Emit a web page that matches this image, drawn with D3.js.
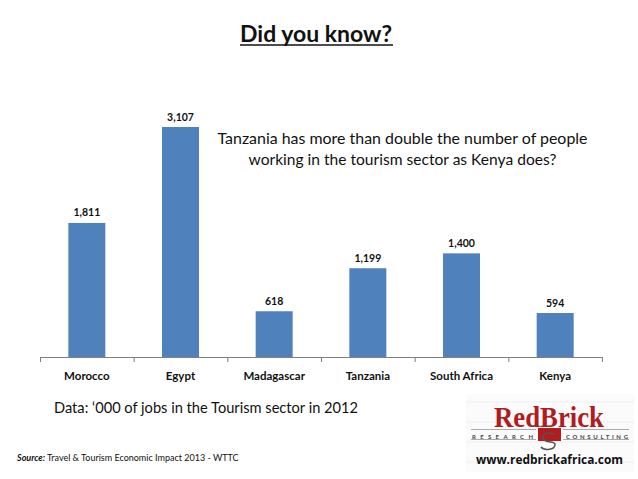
<!DOCTYPE html>
<html>
<head>
<meta charset="utf-8">
<script src="https://cdn.jsdelivr.net/npm/d3@7"></script>
<style>
  html, body { margin: 0; padding: 0; background: #fff; }
  svg { display: block; }
  text { font-family: Lato, "Open Sans", sans-serif; fill: #111; }
</style>
</head>
<body>
<svg id="chart" width="638" height="479"></svg>
<script>
const categories = ['Morocco', 'Egypt', 'Madagascar', 'Tanzania', 'South Africa', 'Kenya'];
const jobs = [1811, 3107, 618, 1199, 1400, 594];
const calloutLines = [
  'Tanzania has more than double the number of people',
  'working in the tourism sector as Kenya does?',
];

const svg = d3.select('#chart');

const x = d3.scaleBand().domain(categories).range([40, 602]).paddingInner(0).paddingOuter(0);
const y = d3.scaleLinear().domain([0, 3107]).range([357, 127]);
const barWidth = 37;

// title
svg.append('text')
  .attr('x', 316).attr('y', 42)
  .attr('text-anchor', 'middle')
  .attr('font-size', 22).attr('font-weight', 700)
  .attr('textLength', 152).attr('lengthAdjust', 'spacingAndGlyphs')
  .text('Did you know?');
svg.append('line')
  .attr('x1', 240).attr('x2', 393)
  .attr('y1', 45).attr('y2', 45)
  .attr('stroke', '#111').attr('stroke-width', 1.6);

// bars
svg.selectAll('rect.bar')
  .data(categories)
  .join('rect')
  .attr('class', 'bar')
  .attr('x', d => x(d) + (x.bandwidth() - barWidth) / 2)
  .attr('width', barWidth)
  .attr('y', (d, i) => y(jobs[i]))
  .attr('height', (d, i) => y(0) - y(jobs[i]))
  .attr('fill', '#4f81bd');

// value labels
svg.selectAll('text.value')
  .data(categories)
  .join('text')
  .attr('class', 'value')
  .attr('x', d => x(d) + x.bandwidth() / 2)
  .attr('y', (d, i) => y(jobs[i]) - 6.5)
  .attr('text-anchor', 'middle')
  .attr('font-size', 10.5).attr('font-weight', 700)
  .text((d, i) => d3.format(',')(jobs[i]));

// category axis
const axis = svg.append('g')
  .attr('transform', `translate(0,${y(0)})`)
  .call(d3.axisBottom(x).tickSize(0).tickPadding(15));
axis.select('.domain').attr('stroke', '#7f7f7f').attr('d', 'M40.5,0.5H602.5');
axis.selectAll('text')
  .attr('font-size', 11.5).attr('font-weight', 700)
  .style('font-family', 'Lato, "Open Sans", sans-serif');
axis.selectAll('line.edge')
  .data(d3.range(categories.length + 1))
  .join('line')
  .attr('class', 'edge')
  .attr('x1', i => 40.5 + i * x.bandwidth())
  .attr('x2', i => 40.5 + i * x.bandwidth())
  .attr('y1', 0).attr('y2', 5)
  .attr('stroke', '#7f7f7f');

// callout
svg.selectAll('text.callout')
  .data(calloutLines)
  .join('text')
  .attr('class', 'callout')
  .attr('x', 402.5)
  .attr('y', (d, i) => 144 + i * 20.5)
  .attr('text-anchor', 'middle')
  .attr('font-size', 16)
  .attr('textLength', (d, i) => (i === 0 ? 370 : 308))
  .attr('lengthAdjust', 'spacingAndGlyphs')
  .text(d => d);

// notes
svg.append('text')
  .attr('x', 54).attr('y', 413)
  .attr('font-size', 15)
  .attr('textLength', 304).attr('lengthAdjust', 'spacingAndGlyphs')
  .text('Data: ‘000 of jobs in the Tourism sector in 2012');

const source = svg.append('text')
  .attr('x', 17).attr('y', 461)
  .attr('font-size', 9);
source.append('tspan').attr('font-weight', 700).attr('font-style', 'italic').text('Source:');
source.append('tspan').text(' Travel & Tourism Economic Impact 2013 - WTTC');

// logo
const logo = svg.append('g');
logo.append('rect')
  .attr('x', 466).attr('y', 394).attr('width', 168).attr('height', 78)
  .attr('fill', '#fbfbfb');
d3.range(4).forEach(i => {
  logo.append('line')
    .attr('x1', 466).attr('x2', 634)
    .attr('y1', 402 + i * 20).attr('y2', 402 + i * 20)
    .attr('stroke', '#efefef');
});
logo.append('text')
  .attr('x', 494).attr('y', 426.5)
  .style('font-family', '"Liberation Serif", serif')
  .style('fill', '#b01c20')
  .attr('font-size', 29).attr('font-weight', 700)
  .attr('textLength', 110).attr('lengthAdjust', 'spacingAndGlyphs')
  .text('RedBrick');
[[471, 536], [563, 629]].forEach(([x1, x2]) => {
  [429.5, 439.5].forEach(ly => {
    logo.append('line')
      .attr('x1', x1).attr('x2', x2)
      .attr('y1', ly).attr('y2', ly)
      .attr('stroke', '#aaa');
  });
});
logo.append('rect')
  .attr('x', 538).attr('y', 428).attr('width', 23).attr('height', 13)
  .attr('fill', '#b01c20');
// swirl under the red square
logo.append('path')
  .attr('d', 'M554,434C545,431 540,436 544,440C548,443 554,441 555,444C556,450 544,451 541,447')
  .attr('fill', 'none')
  .attr('stroke', '#555')
  .attr('stroke-width', 1.6);
logo.append('text')
  .attr('x', 472).attr('y', 438.5)
  .style('fill', '#444')
  .attr('font-size', 6).attr('font-weight', 700)
  .attr('textLength', 61)
  .text('RESEARCH');
logo.append('text')
  .attr('x', 566).attr('y', 438.5)
  .style('fill', '#444')
  .attr('font-size', 6).attr('font-weight', 700)
  .attr('textLength', 62)
  .text('CONSULTING');
logo.append('text')
  .attr('x', 476).attr('y', 463.5)
  .attr('font-size', 12).attr('font-weight', 700)
  .attr('textLength', 147).attr('lengthAdjust', 'spacingAndGlyphs')
  .style('font-family', '"Open Sans", sans-serif')
  .text('www.redbrickafrica.com');
</script>
</body>
</html>
